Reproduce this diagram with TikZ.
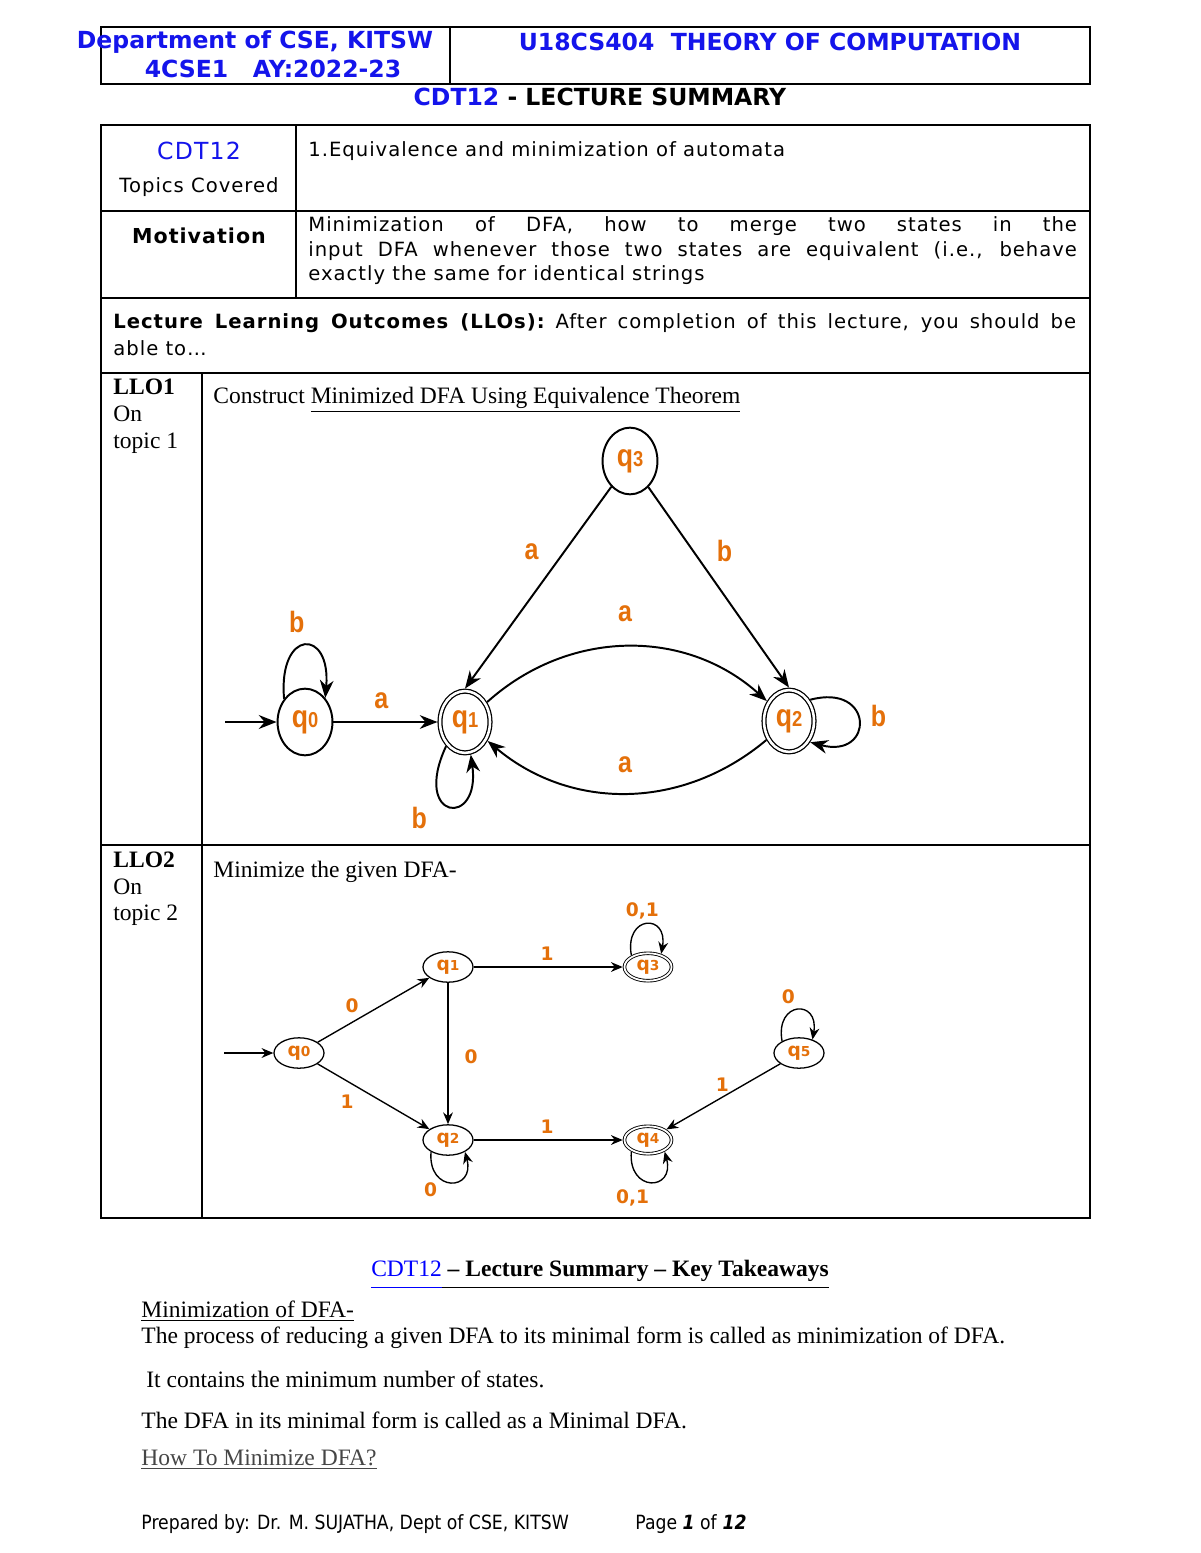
\documentclass[tikz,border=0pt]{standalone}
\usepackage{fontspec}
\setmainfont{Liberation Serif}
\newfontfamily\dejavu{DejaVu Sans}
\newfontfamily\dejavuwide[LetterSpace=5]{DejaVu Sans}
\newfontfamily\dejavucond[FakeStretch=0.88]{DejaVu Sans}
\newfontfamily\arialnarrow[FakeStretch=0.85]{Liberation Sans}
\usetikzlibrary{shapes.geometric,arrows.meta,positioning}

\definecolor{deptblue}{RGB}{20,20,235}
\definecolor{qorange}{RGB}{228,112,10}
\definecolor{linkgray}{RGB}{70,70,70}

\newcommand{\bigq}[1]{q{\fontsize{11}{11}\selectfont #1}}
\newcommand{\smallq}[1]{q{\fontsize{7}{7}\selectfont #1}}

\begin{document}
\begin{tikzpicture}[x=0.51pt, y=-0.51pt,
  hd/.style={text=deptblue, font=\dejavu\bfseries\fontsize{12}{14}\selectfont},
  sans/.style={font=\dejavuwide\fontsize{10}{12}\selectfont},
  serif/.style={font=\fontsize{12}{14}\selectfont},
  txt/.style={inner sep=0pt, anchor=west},
  st/.style={draw, ellipse, line width=1pt, inner sep=0pt, minimum width=28pt, minimum height=34pt, text=qorange, font=\arialnarrow\bfseries\fontsize{16}{16}\selectfont},
  acc/.style={st, line width=0.65pt, double, double distance=1.3pt, minimum width=25.5pt, minimum height=31.5pt, outer sep=1.3pt},
  tr/.style={-{Stealth[length=9pt,width=7pt]}, line width=1pt},
  lab/.style={text=qorange, font=\arialnarrow\bfseries\fontsize{15}{15}\selectfont, inner sep=0pt},
  sm/.style={draw, ellipse, line width=0.65pt, inner sep=0pt, minimum width=25.5pt, minimum height=15.5pt, text=qorange, font=\dejavu\bfseries\fontsize{9.5}{9.5}\selectfont},
  smacc/.style={sm, line width=0.45pt, double, double distance=0.9pt, minimum width=24pt, minimum height=14pt, outer sep=0.9pt},
  tr2/.style={-{Stealth[length=6pt,width=5pt]}, line width=0.7pt},
  lab2/.style={text=qorange, font=\dejavu\bfseries\fontsize{9.5}{10}\selectfont, inner sep=0pt}]

\fill[white] (0,0) rectangle (1200,1553);
\useasboundingbox (0,0) rectangle (1200,1553);

% header
\draw[line width=1pt] (101,27) rectangle (1090,84);
\draw[line width=0.6pt] (450,27) -- (450,84);
\node[hd] (dept) at (255,42) {Department of CSE, KITSW};
\node[hd] (sem) at (273,69) {4CSE1\ \ \ AY:2022-23};
\node[hd] (course) at (770,42) {U18CS404\ \ THEORY OF COMPUTATION};
\node[font=\dejavu\bfseries\fontsize{12}{14}\selectfont] (sumttl) at (600,97) {\textcolor{deptblue}{CDT12} - LECTURE SUMMARY};

% table
\draw[line width=1pt] (101,125) rectangle (1090,1218);
\foreach \yy in {211,298,373,845}
  \draw[line width=0.9pt] (101,\yy) -- (1090,\yy);
\draw[line width=0.9pt] (296,125) -- (296,298);
\draw[line width=0.6pt] (202,373) -- (202,1218);

\node[sans, text=deptblue, font=\dejavuwide\fontsize{12}{14}\selectfont] (cdt) at (199,151) {CDT12};
\node[sans] (topics) at (199,187) {Topics Covered};
\node[sans, txt] (topic1) at (308,151) {1.Equivalence and minimization of automata};
\node[font=\dejavuwide\bfseries\fontsize{10.5}{12}\selectfont] (motiv) at (199,236) {Motivation};
\node[sans, txt] (mot1) at (308,226) {\makebox[392pt][s]{Minimization of DFA, how to merge two states in the}};
\node[sans, txt] (mot2) at (308,251) {\makebox[392pt][s]{input DFA whenever those two states are equivalent (i.e., behave}};
\node[sans, txt] (mot3) at (308,275) {exactly the same for identical strings};
\node[sans, txt] (llos) at (113,323) {\makebox[491pt][s]{\bfseries Lecture Learning Outcomes (LLOs):\mdseries\ After completion of this lecture, you should be}};
\node[sans, txt] (ableto) at (113,348) {able to…};

\node[txt, font=\bfseries\fontsize{12}{14}\selectfont] (llo1) at (113,387) {LLO1};
\node[serif, txt] (on1) at (113,414) {On};
\node[serif, txt] (tp1) at (113,443) {topic 1};
\node[serif, txt] (construct) at (213,400) {Construct \underline{Minimized DFA Using Equivalence Theorem}};

\node[txt, font=\bfseries\fontsize{12}{14}\selectfont] (llo2) at (113,860) {LLO2};
\node[serif, txt] (on2) at (113,887) {On};
\node[serif, txt] (tp2) at (113,915) {topic 2};
\node[serif, txt] (given) at (213,872) {Minimize the given DFA-};

% DFA 1
\node[st] (q3) at (630,461) {\bigq{3}};
\node[st] (q0) at (305,722) {\bigq{0}};
\node[acc] (q1) at (465,722) {\bigq{1}};
\node[acc] (q2) at (789,721) {\bigq{2}};
\coordinate (start1) at (225,722);

\draw[tr, line width=1.5pt] (start1) -- (q0);
\draw[tr] (q0) -- node[lab, shift={(-4,-21)}] {a} (q1);
\draw[tr] (q3) -- node[lab, pos=.32, shift={(-33,0)}] {a} (q1.north);
\draw[tr] (q3) -- node[lab, pos=.32, shift={(31,0)}] {b} (q2.north);
\draw[tr] (q1) to[out=42, in=138] node[lab, shift={(-2,-33)}] {a} (q2);
\draw[tr] (q2) to[out=-140, in=-40] node[lab, shift={(-2,-28)}] {a} (q1);
\draw[tr] (q0.132) .. controls +(95:36pt) and +(85:36pt) .. node[lab, shift={(-8,-24)}] {b} (q0.50);
\draw[tr] (q1.232) .. controls +(245:42pt) and +(278:38pt) .. node[lab, shift={(-30,12)}] {b} (q1.280);
\draw[tr] (q2.45) .. controls +(15:34pt) and +(-15:34pt) .. node[lab, shift={(20,-5)}] {b} (q2.-45);

% DFA 2
\node[sm] (d0) at (299,1053) {\smallq{0}};
\node[sm] (d1) at (448,967) {\smallq{1}};
\node[sm] (d2) at (448,1140) {\smallq{2}};
\node[smacc] (d3) at (648,967) {\smallq{3}};
\node[smacc] (d4) at (648,1140) {\smallq{4}};
\node[sm] (d5) at (799,1053) {\smallq{5}};
\coordinate (start2) at (224,1053);

\draw[tr2] (start2) -- (d0);
\draw[tr2] (d0) -- node[lab2, pos=.3, shift={(1,-17)}] {0} (d1);
\draw[tr2] (d0) -- node[lab2, pos=.3, shift={(-4,18)}] {1} (d2);
\draw[tr2] (d1) -- node[lab2, shift={(23,3)}] {0} (d2);
\draw[tr2] (d1) -- node[lab2, shift={(-1,-13)}] {1} (d3);
\draw[tr2] (d2) -- node[lab2, shift={(-1,-13)}] {1} (d4);
\draw[tr2] (d5) -- node[lab2, shift={(-1,-12)}] {1} (d4);
\draw[tr2] (d3.145) .. controls +(100:21pt) and +(80:21pt) .. node[lab2, shift={(-4,-13)}] {0,1} (d3.45);
\draw[tr2] (d5.145) .. controls +(100:21pt) and +(80:21pt) .. node[lab2, shift={(-9,-13)}] {0} (d5.45);
\draw[tr2] (d2.-145) .. controls +(265:21pt) and +(285:21pt) .. node[lab2, shift={(-20,8)}] {0} (d2.-35);
\draw[tr2] (d4.-145) .. controls +(265:21pt) and +(285:21pt) .. node[lab2, shift={(-18,16)}] {0,1} (d4.-35);

% key takeaways
\node[serif] (keyttl) at (600,1273) {\textcolor{blue}{\underline{CDT12\strut}}\underline{\bfseries\ – Lecture Summary – Key Takeaways\strut}};
\node[serif, txt] (minhd) at (141,1311) {\underline{Minimization of DFA-}};
\node[serif, txt] (def1) at (141,1338) {The process of reducing a given DFA to its minimal form is called as minimization of DFA.};
\node[serif, txt] (def2) at (146,1379) {It contains the minimum number of states.};
\node[serif, txt] (def3) at (141,1420) {The DFA in its minimal form is called as a Minimal DFA.};
\node[serif, txt, text=linkgray] (howto) at (141,1460) {\underline{How To Minimize DFA?}};
\node[txt, font=\dejavucond\fontsize{10}{12}\selectfont] (prep) at (141,1524) {Prepared by: Dr. M. SUJATHA, Dept of CSE, KITSW};
\node[txt, font=\dejavucond\fontsize{10}{12}\selectfont] (pg) at (635,1524) {Page \textbf{\textit{1}} of \textbf{\textit{12}}};
\end{tikzpicture}
\end{document}
